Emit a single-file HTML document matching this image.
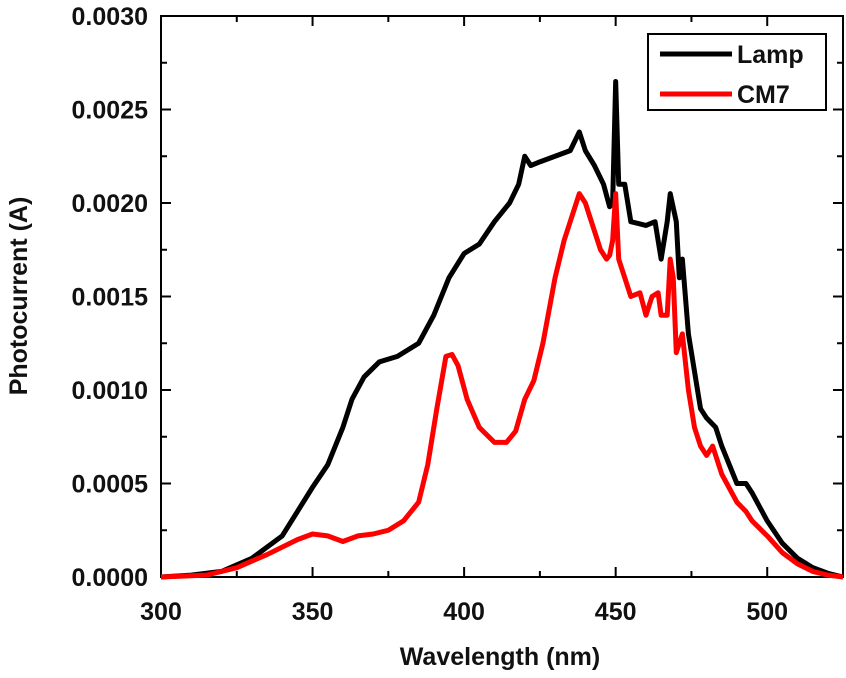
<!DOCTYPE html>
<html><head><meta charset="utf-8"><style>
body{margin:0;background:#fff;}
svg text{font-family:"Liberation Sans",Arial,sans-serif;font-weight:bold;fill:#111;}
</style></head><body>
<svg id="chart" width="846" height="673">
<g id="axes"></g><g id="series"></g>
<rect x="648" y="34" width="178" height="76" fill="#fff" stroke="#000" stroke-width="2"/>
<line x1="660" y1="54" x2="732" y2="54" stroke="#000" stroke-width="5"/>
<text x="737" y="63" font-size="25">Lamp</text>
<line x1="660" y1="94" x2="732" y2="94" stroke="#f00" stroke-width="5"/>
<text x="737" y="103" font-size="25">CM7</text>
<text x="500" y="665" font-size="25" text-anchor="middle">Wavelength (nm)</text>
<text transform="translate(27,296) rotate(-90)" font-size="25" text-anchor="middle">Photocurrent (A)</text>
</svg>
<script>
const xTicks=[300,350,400,450,500];
const yTicks=[0,0.0005,0.001,0.0015,0.002,0.0025,0.003];
const yLabels=["0.0000","0.0005","0.0010","0.0015","0.0020","0.0025","0.0030"];
const lampX=[300,310,320,330,340,345,350,355,360,363,367,372,378,385,390,395,400,405,410,415,418,420,422,425,430,435,438,440,443,446,448,449,450,451,453,455,460,463,465,467,468,470,471,472,474,475,478,480,483,485,490,493,495,500,505,510,515,520,525];
const lampY=[0,0.00001,0.00003,0.0001,0.00022,0.00035,0.00048,0.0006,0.0008,0.00095,0.00107,0.00115,0.00118,0.00125,0.0014,0.0016,0.00173,0.00178,0.0019,0.002,0.0021,0.00225,0.0022,0.00222,0.00225,0.00228,0.00238,0.00228,0.0022,0.0021,0.00198,0.002,0.00265,0.0021,0.0021,0.0019,0.00188,0.0019,0.0017,0.0019,0.00205,0.0019,0.0016,0.0017,0.0013,0.0012,0.0009,0.00085,0.0008,0.0007,0.0005,0.0005,0.00045,0.0003,0.00018,0.0001,0.00005,0.00002,0];
const cmX=[300,315,325,335,345,350,355,360,365,370,375,380,385,388,391,394,396,398,401,405,410,414,417,420,423,426,430,433,436,438,440,442,445,447,448,449,450,451,453,455,458,460,462,464,465,467,468,469,470,472,474,476,478,480,482,485,490,493,495,500,505,510,515,520,525];
const cmY=[0,0.00001,0.00005,0.00012,0.0002,0.00023,0.00022,0.00019,0.00022,0.00023,0.00025,0.0003,0.0004,0.0006,0.0009,0.00118,0.00119,0.00113,0.00095,0.0008,0.00072,0.00072,0.00078,0.00095,0.00105,0.00125,0.0016,0.0018,0.00195,0.00205,0.002,0.0019,0.00175,0.0017,0.00172,0.0018,0.00205,0.0017,0.0016,0.0015,0.00152,0.0014,0.0015,0.00152,0.0014,0.0014,0.0017,0.0016,0.0012,0.0013,0.001,0.0008,0.0007,0.00065,0.0007,0.00055,0.0004,0.00035,0.0003,0.00022,0.00013,0.00007,0.00003,0.00001,0];
const L=161,R=843,T=16,B=577;
const sx=v=>L+(v-300)/(525-300)*(R-L);
const sy=v=>B-v/0.003*(B-T);
const NS="http://www.w3.org/2000/svg";
const ax=document.getElementById('axes'),se=document.getElementById('series');
function mk(tag,at,parent){const e=document.createElementNS(NS,tag);for(const k in at)e.setAttribute(k,at[k]);parent.appendChild(e);return e;}
const fr=mk('rect',{x:L,y:T,width:R-L,height:B-T,fill:'none',stroke:'#000','stroke-width':2},ax);


for(let v=300;v<=525;v+=25){const maj=v%50===0,len=maj?10:6;
 mk('line',{x1:sx(v),x2:sx(v),y1:B,y2:B-len,stroke:'#000','stroke-width':2},ax);
 mk('line',{x1:sx(v),x2:sx(v),y1:T,y2:T+len,stroke:'#000','stroke-width':2},ax);}
xTicks.forEach(v=>{const t=mk('text',{x:sx(v),y:B+43,'font-size':25,'text-anchor':'middle'},ax);t.textContent=v;
 
 });
for(let i=0;i<=12;i++){const v=i*0.00025,len=i%2===0?10:6;
 mk('line',{x1:L,x2:L+len,y1:sy(v),y2:sy(v),stroke:'#000','stroke-width':2},ax);
 mk('line',{x1:R,x2:R-len,y1:sy(v),y2:sy(v),stroke:'#000','stroke-width':2},ax);}
yTicks.forEach((v,i)=>{const t=mk('text',{x:148,y:sy(v)+9,'font-size':25,'text-anchor':'end'},ax);t.textContent=yLabels[i];
 
 });
function line(xs,ys,col,name){const p=mk('polyline',{points:xs.map((x,i)=>sx(x)+','+sy(ys[i])).join(' '),fill:'none',stroke:col,'stroke-width':5,'stroke-linejoin':'round'},se);
 
 }
line(lampX,lampY,'#000','lamp-line');
line(cmX,cmY,'#f00','cm7-line');
</script>
</body></html>
